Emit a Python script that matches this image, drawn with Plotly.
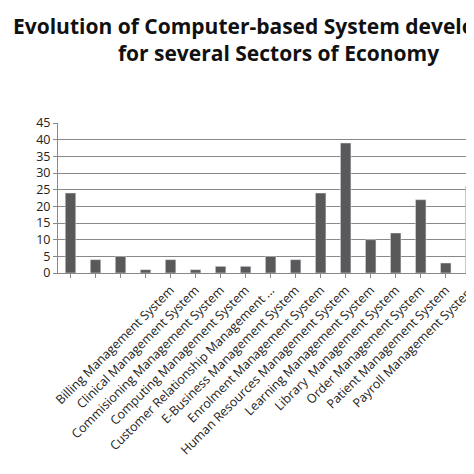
import plotly.graph_objects as go

categories = ["Account Management System", "Academic Management System", "Asset Management System",
              "Attendance Management System", "Billing Management System", "Clinical Management System",
              "Commisioning Management System", "Computing Management System",
              "Customer Relationship Management ...", "E-Business Management System",
              "Enrolment Management System", "Human Resources Management System",
              "Learning Management System", "Library  Management System", "Order Management System",
              "Patient Management System", "Payroll Management System",
              "Preventive Maintenance Management System", "Project Management System",
              "Recruitment Management System", "Sales Management System"]
values = [24, 4, 5, 1, 4, 1, 2, 2, 5, 4, 24, 39, 10, 12, 22, 3, 26, None, None, None, None]
y_ticks = [0, 5, 10, 15, 20, 25, 30, 35, 40, 45]

fig = go.Figure(go.Bar(x=list(range(len(categories))), y=values, marker_color="#595959", width=0.42))
fig.update_layout(
    width=474, height=474, plot_bgcolor="white", paper_bgcolor="white",
    margin=dict(l=50, r=0, t=115, b=209, autoexpand=False), showlegend=False,
    font=dict(family="Open Sans", color="#222"),
    xaxis=dict(range=[-0.5, 16.45], tickmode="array", tickvals=list(range(len(categories))),
               ticktext=categories, tickangle=-45, tickfont=dict(size=12.5),
               showline=True, linecolor="#888", ticks="outside", ticklen=4, tickcolor="#888"),
    yaxis=dict(range=[0, 45], tickvals=y_ticks, showgrid=True, gridcolor="#888", gridwidth=1,
               showline=True, linecolor="#888", ticks="outside", ticklen=4, tickcolor="#888",
               tickfont=dict(size=12.5)),
    annotations=[dict(text="<b>Evolution of Computer-based System development<br>for several Sectors of Economy</b>",
                      xref="paper", yref="paper", x=0.52, y=1.0, yshift=113, yanchor="top",
                      showarrow=False, font=dict(size=21, color="#111", family="Open Sans"),
                      align="center")],
)
fig.write_html("out.html")
